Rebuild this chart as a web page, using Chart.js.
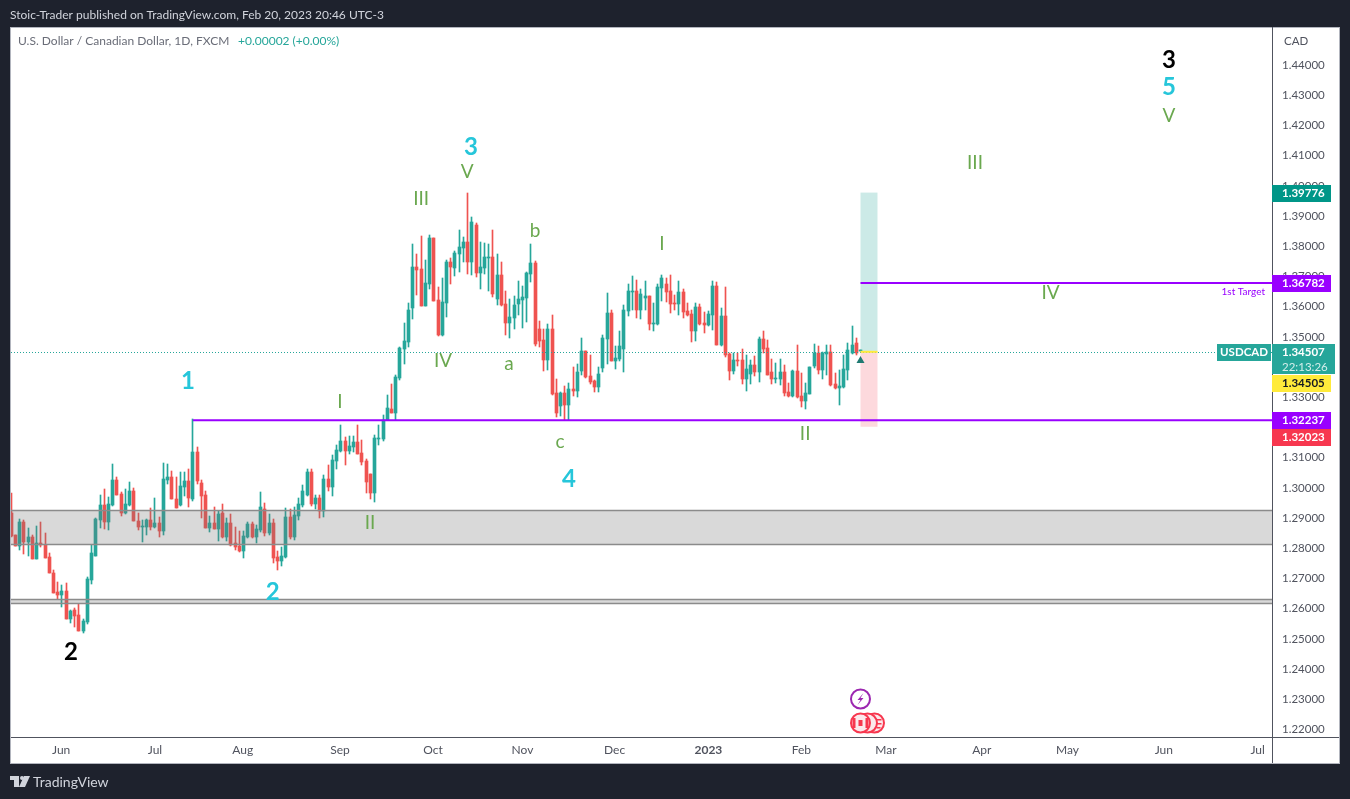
<!DOCTYPE html>
<html>
<head>
<meta charset="utf-8">
<title>USDCAD</title>
<script src="https://cdn.jsdelivr.net/npm/chart.js@4"></script>
<style>
  html, body { margin: 0; padding: 0; background: #1e222d; overflow: hidden; }
  canvas { display: block; }
</style>
</head>
<body>
<canvas id="grafica" width="1350" height="799"></canvas>
<script>
// --- Data ---
const opens = [
  1.2914,1.2840,1.2805,1.2883,1.2817,1.2834,1.2761,1.2814,1.2809,1.2768,
  1.2715,1.2652,1.2642,1.2655,1.2562,1.2592,1.2575,1.2522,1.2552,1.2691,
  1.2771,1.2890,1.2940,1.2883,1.2940,1.3023,1.2976,1.2913,1.2940,1.2986,
  1.2887,1.2868,1.2867,1.2890,1.2867,1.2880,1.2854,1.3023,1.3032,1.2960,
  1.2940,1.2999,1.3019,1.2960,1.3115,1.3013,1.2973,1.2864,1.2880,1.2860,
  1.2913,1.2834,1.2880,1.2814,1.2804,1.2787,1.2834,1.2877,1.2834,1.2857,
  1.2926,1.2847,1.2880,1.2768,1.2754,1.2768,1.2900,1.2834,1.2903,1.2940,
  1.2973,1.3049,1.2943,1.2963,1.2920,1.3026,1.2999,1.3085,1.3119,1.3152,
  1.3119,1.3132,1.3148,1.3112,1.3085,1.3042,1.2979,1.3159,1.3158,1.3221,
  1.3258,1.3244,1.3360,1.3456,1.3480,1.3592,1.3728,1.3721,1.3599,1.3672,
  1.3824,1.3619,1.3503,1.3609,1.3745,1.3725,1.3771,1.3791,1.3811,1.3745,
  1.3867,1.3708,1.3725,1.3758,1.3761,1.3622,1.3702,1.3605,1.3543,1.3559,
  1.3605,1.3619,1.3625,1.3705,1.3741,1.3523,1.3486,1.3420,1.3523,1.3311,
  1.3268,1.3311,1.3271,1.3324,1.3317,1.3384,1.3450,1.3367,1.3350,1.3331,
  1.3393,1.3490,1.3576,1.3417,1.3423,1.3456,1.3582,1.3645,1.3649,1.3586,
  1.3625,1.3632,1.3539,1.3539,1.3658,1.3672,1.3649,1.3609,1.3605,1.3645,
  1.3582,1.3572,1.3516,1.3596,1.3543,1.3536,1.3569,1.3665,1.3470,1.3566,
  1.3440,1.3384,1.3420,1.3420,1.3357,1.3374,1.3403,1.3380,1.3490,1.3460,
  1.3380,1.3357,1.3357,1.3380,1.3314,1.3301,1.3384,1.3301,1.3284,1.3307,
  1.3400,1.3443,1.3387,1.3440,1.3446,1.3340,1.3327,1.3331,1.3387,1.3443,
  1.3476,1.34505
];
const highs = [
  1.2981,1.2840,1.2893,1.2890,1.2865,1.2840,1.2870,1.2883,1.2847,1.2781,
  1.2724,1.2685,1.2675,1.2681,1.2592,1.2599,1.2613,1.2562,1.2701,1.2809,
  1.2897,1.2973,1.2993,1.2966,1.3076,1.3032,1.2983,1.2993,1.3016,1.2996,
  1.2913,1.2890,1.2893,1.2930,1.2963,1.2900,1.3079,1.3076,1.3052,1.3032,
  1.3049,1.3049,1.3059,1.3224,1.3132,1.3023,1.2986,1.2903,1.2933,1.2920,
  1.2943,1.2897,1.2910,1.2867,1.2854,1.2854,1.2883,1.2883,1.2874,1.2983,
  1.2946,1.2910,1.2893,1.2787,1.2801,1.2930,1.2926,1.2933,1.2963,1.3006,
  1.3059,1.3059,1.2973,1.2973,1.3039,1.3072,1.3105,1.3138,1.3205,1.3165,
  1.3168,1.3168,1.3205,1.3155,1.3092,1.3042,1.3172,1.3205,1.3238,1.3304,
  1.3340,1.3370,1.3463,1.3543,1.3609,1.3804,1.3771,1.3831,1.3751,1.3834,
  1.3824,1.3662,1.3692,1.3751,1.3758,1.3781,1.3851,1.3827,1.3973,1.3894,
  1.3874,1.3811,1.3807,1.3804,1.3851,1.3771,1.3745,1.3649,1.3622,1.3632,
  1.3682,1.3665,1.3711,1.3804,1.3748,1.3549,1.3523,1.3539,1.3569,1.3357,
  1.3314,1.3334,1.3344,1.3397,1.3407,1.3493,1.3450,1.3437,1.3354,1.3397,
  1.3503,1.3642,1.3586,1.3466,1.3516,1.3602,1.3672,1.3698,1.3685,1.3655,
  1.3682,1.3632,1.3609,1.3672,1.3701,1.3692,1.3701,1.3635,1.3682,1.3655,
  1.3609,1.3586,1.3609,1.3605,1.3579,1.3582,1.3682,1.3678,1.3592,1.3662,
  1.3443,1.3443,1.3443,1.3456,1.3437,1.3420,1.3433,1.3496,1.3516,1.3486,
  1.3423,1.3410,1.3423,1.3403,1.3344,1.3387,1.3470,1.3377,1.3344,1.3397,
  1.3473,1.3466,1.3446,1.3470,1.3470,1.3377,1.3387,1.3437,1.3476,1.3533,
  1.3493,1.3451
];
const lows = [
  1.2835,1.2804,1.2791,1.2780,1.2773,1.2761,1.2761,1.2802,1.2764,1.2715,
  1.2648,1.2628,1.2602,1.2562,1.2549,1.2536,1.2522,1.2517,1.2546,1.2678,
  1.2771,1.2864,1.2860,1.2857,1.2936,1.2973,1.2903,1.2910,1.2936,1.2887,
  1.2857,1.2817,1.2840,1.2857,1.2864,1.2834,1.2840,1.3009,1.2960,1.2930,
  1.2936,1.2970,1.2933,1.2955,1.3009,1.2897,1.2864,1.2850,1.2860,1.2821,
  1.2830,1.2821,1.2804,1.2791,1.2784,1.2764,1.2830,1.2830,1.2814,1.2850,
  1.2837,1.2840,1.2748,1.2724,1.2738,1.2764,1.2827,1.2824,1.2890,1.2934,
  1.2970,1.2936,1.2929,1.2896,1.2901,1.2986,1.2970,1.3059,1.3115,1.3072,
  1.3111,1.3115,1.3109,1.3072,1.2979,1.2960,1.2950,1.3138,1.3152,1.3221,
  1.3244,1.3221,1.3354,1.3407,1.3463,1.3556,1.3635,1.3599,1.3599,1.3655,
  1.3615,1.3499,1.3499,1.3562,1.3672,1.3698,1.3711,1.3745,1.3705,1.3702,
  1.3695,1.3655,1.3705,1.3649,1.3629,1.3602,1.3599,1.3503,1.3493,1.3523,
  1.3569,1.3526,1.3546,1.3678,1.3466,1.3463,1.3384,1.3387,1.3304,1.3231,
  1.3235,1.3221,1.3221,1.3301,1.3297,1.3370,1.3360,1.3340,1.3314,1.3314,
  1.3380,1.3407,1.3417,1.3390,1.3417,1.3380,1.3566,1.3586,1.3559,1.3556,
  1.3586,1.3519,1.3516,1.3536,1.3615,1.3612,1.3576,1.3586,1.3569,1.3559,
  1.3566,1.3480,1.3483,1.3536,1.3509,1.3533,1.3519,1.3470,1.3466,1.3430,
  1.3354,1.3374,1.3400,1.3340,1.3317,1.3340,1.3367,1.3347,1.3443,1.3370,
  1.3340,1.3344,1.3337,1.3301,1.3297,1.3297,1.3294,1.3264,1.3258,1.3307,
  1.3393,1.3374,1.3357,1.3370,1.3334,1.3324,1.3271,1.3327,1.3354,1.3440,
  1.3437,1.3450
];
const closes = [
  1.2837,1.2805,1.2883,1.2818,1.2834,1.2761,1.2814,1.2807,1.2764,1.2715,
  1.2648,1.2642,1.2655,1.2562,1.2589,1.2572,1.2522,1.2556,1.2695,1.2781,
  1.2893,1.2940,1.2883,1.2943,1.3023,1.2973,1.2913,1.2943,1.2986,1.2887,
  1.2867,1.2870,1.2890,1.2867,1.2880,1.2854,1.3026,1.3032,1.2960,1.2930,
  1.3003,1.3019,1.2963,1.3115,1.3019,1.2970,1.2864,1.2880,1.2860,1.2910,
  1.2834,1.2880,1.2807,1.2801,1.2787,1.2837,1.2877,1.2834,1.2860,1.2933,
  1.2847,1.2880,1.2764,1.2754,1.2771,1.2900,1.2834,1.2907,1.2943,1.2986,
  1.3049,1.2943,1.2963,1.2920,1.3026,1.2999,1.3089,1.3122,1.3152,1.3119,
  1.3135,1.3148,1.3109,1.3082,1.3016,1.2979,1.3162,1.3162,1.3221,1.3261,
  1.3244,1.3364,1.3460,1.3483,1.3586,1.3728,1.3718,1.3599,1.3675,1.3824,
  1.3615,1.3503,1.3612,1.3745,1.3728,1.3774,1.3794,1.3811,1.3745,1.3877,
  1.3708,1.3728,1.3761,1.3761,1.3639,1.3702,1.3602,1.3543,1.3562,1.3602,
  1.3622,1.3629,1.3708,1.3741,1.3473,1.3483,1.3420,1.3523,1.3307,1.3244,
  1.3311,1.3271,1.3324,1.3317,1.3380,1.3450,1.3364,1.3347,1.3331,1.3374,
  1.3493,1.3576,1.3417,1.3427,1.3466,1.3586,1.3649,1.3649,1.3586,1.3639,
  1.3632,1.3539,1.3543,1.3662,1.3692,1.3645,1.3605,1.3605,1.3645,1.3579,
  1.3569,1.3516,1.3596,1.3539,1.3536,1.3572,1.3665,1.3470,1.3566,1.3437,
  1.3384,1.3420,1.3417,1.3357,1.3390,1.3403,1.3380,1.3490,1.3456,1.3370,
  1.3357,1.3360,1.3380,1.3311,1.3301,1.3384,1.3297,1.3284,1.3311,1.3397,
  1.3443,1.3387,1.3443,1.3446,1.3337,1.3327,1.3334,1.3390,1.3453,1.3470,
  1.3443,1.34507
];

const priceTicks = [1.22,1.23,1.24,1.25,1.26,1.27,1.28,1.29,1.30,1.31,1.32,1.33,1.34,1.35,1.36,1.37,1.38,1.39,1.40,1.41,1.42,1.43,1.44];
const monthLabels = ['Jun','Jul','Aug','Sep','Oct','Nov','Dec','2023','Feb','Mar','Apr','May','Jun','Jul'];
const monthBars = [11.8,34,54.8,77.8,99.8,121,142.8,165,187,207,229.7,250,272.8,295];

// Supply zones, trade levels
const zoneTops = [1.29251, 1.26305];
const zoneBottoms = [1.28125, 1.26172];
const levelPrices = [1.32237, 1.36782];
const levelStartBars = [43, 201];
const targetPrice = 1.39776;
const entryPrice = 1.34505;
const stopPrice = 1.32023;
const lastPrice = 1.34507;
const lastBar = 201;

// Wave counts: text, bar, price
const bigTexts = ['2','3'];
const bigBars = [14.1, 274];
const bigPrices = [1.2456, 1.4416];
const cyanTexts = ['1','2','3','4','5'];
const cyanBars = [41.8, 61.9, 108.8, 132, 274];
const cyanPrices = [1.3353, 1.2655, 1.4128, 1.3029, 1.4327];
const greenTexts = ['I','II','III','IV','V','a','b','c','I','II','III','IV','V'];
const greenBars = [77.8, 84.9, 97, 102.2, 107.9, 117.8, 124, 129.9, 154, 187.9, 228.1, 246, 274];
const greenPrices = [1.3284, 1.2883, 1.3956, 1.3420, 1.4045, 1.3410, 1.3850, 1.3152, 1.3807, 1.3178, 1.4075, 1.3645, 1.4231];

const priceTags = [1.39776, 1.36782, 1.34505, 1.32237, 1.32023];
const priceTagColors = ['#009688', '#9900ff', '#ffeb3b', '#9900ff', '#f7374f'];
const priceTagTexts = ['#ffffff', '#ffffff', '#131722', '#ffffff', '#ffffff'];

const VERDE = '#26a69a';
const ROJO = '#ef5350';
const FUENTE = 'Lato, "Noto Sans", sans-serif';

const barIndex = opens.map((_, i) => i);
const colores = opens.map((o, i) => (closes[i] >= o ? VERDE : ROJO));

function texto(ctx, str, x, y, font, color, align = 'left') {
    ctx.font = font;
    ctx.fillStyle = color;
    ctx.textAlign = align;
    ctx.textBaseline = 'middle';
    ctx.fillText(str, x, y);
}

// --- Panel blanco y marco ---
const panelPlugin = {
    id: 'panel',
    beforeDraw(chart) {
        const ctx = chart.ctx;
        ctx.save();
        ctx.fillStyle = '#1e222d';
        ctx.fillRect(0, 0, 1350, 799);
        ctx.fillStyle = '#ffffff';
        ctx.fillRect(10, 27, 1330, 737);
        ctx.strokeStyle = '#b2b5be';
        ctx.lineWidth = 1;
        ctx.strokeRect(10.5, 27.5, 1329, 736);
        ctx.restore();
    },
    // velas nítidas como en la original
    afterDatasetsUpdate(chart) {
        chart.data.datasets.forEach((ds, d) => {
            chart.getDatasetMeta(d).data.forEach(el => {
                el.x = Math.floor(el.x) + 0.5;
                el.y = Math.floor(el.y - 0.3);
                el.base = Math.floor(el.base - 0.3);
                if (el.base === el.y) el.y -= 1;
            });
        });
    }
};

// --- Zonas, niveles y etiquetas ---
const overlayPlugin = {
    id: 'overlay',
    afterDatasetsDraw(chart) {
        const ctx = chart.ctx;
        const { x: sx, y: sy } = chart.scales;
        const { left, right, top, bottom } = chart.chartArea;
        ctx.save();
        ctx.beginPath();
        ctx.rect(left, top, right - left, bottom - top);
        ctx.clip();

        // Zonas grises
        zoneTops.forEach((t, i) => {
            const y0 = sy.getPixelForValue(t);
            const y1 = sy.getPixelForValue(zoneBottoms[i]);
            ctx.fillStyle = 'rgba(120,120,120,0.28)';
            ctx.fillRect(left, y0, right - left, y1 - y0);
            ctx.strokeStyle = '#8b8b8b';
            ctx.lineWidth = 1.5;
            ctx.beginPath();
            ctx.moveTo(left, y0); ctx.lineTo(right, y0);
            ctx.moveTo(left, y1); ctx.lineTo(right, y1);
            ctx.stroke();
        });

        // Cajas de objetivo y stop
        const bx0 = sx.getPixelForValue(lastBar);
        const bw = 17;
        const yEntry = sy.getPixelForValue(entryPrice);
        const yTarget = sy.getPixelForValue(targetPrice);
        const yStop = sy.getPixelForValue(stopPrice);
        ctx.fillStyle = 'rgba(0,150,136,0.2)';
        ctx.fillRect(bx0, yTarget, bw, yEntry - yTarget);
        ctx.fillStyle = 'rgba(244,67,84,0.2)';
        ctx.fillRect(bx0, yEntry, bw, yStop - yEntry);

        // Línea de precio punteada
        ctx.strokeStyle = VERDE;
        ctx.lineWidth = 1;
        ctx.setLineDash([1, 2]);
        ctx.beginPath();
        ctx.moveTo(left, Math.round(sy.getPixelForValue(lastPrice)) + 0.5);
        ctx.lineTo(right, Math.round(sy.getPixelForValue(lastPrice)) + 0.5);
        ctx.stroke();
        ctx.setLineDash([]);

        // Línea amarilla de entrada
        ctx.strokeStyle = '#ffeb3b';
        ctx.lineWidth = 2;
        ctx.beginPath();
        ctx.moveTo(bx0, yEntry); ctx.lineTo(bx0 + bw, yEntry);
        ctx.stroke();

        // Niveles morados
        levelPrices.forEach((p, i) => {
            const y = sy.getPixelForValue(p);
            ctx.strokeStyle = '#9900ff';
            ctx.lineWidth = 2;
            ctx.beginPath();
            ctx.moveTo(sx.getPixelForValue(levelStartBars[i]), y);
            ctx.lineTo(right, y);
            ctx.stroke();
        });
        texto(ctx, '1st Target', 1265, 292, '10px ' + FUENTE, '#9900ff', 'right');

        // Triángulo
        ctx.fillStyle = '#1f7a72';
        ctx.beginPath();
        ctx.moveTo(bx0, 356); ctx.lineTo(bx0 + 4, 363); ctx.lineTo(bx0 - 4, 363);
        ctx.closePath();
        ctx.fill();

        // Conteo de ondas
        bigTexts.forEach((t, i) => texto(ctx, t, sx.getPixelForValue(bigBars[i]), sy.getPixelForValue(bigPrices[i]), 'bold 24px ' + FUENTE, '#000000', 'center'));
        cyanTexts.forEach((t, i) => texto(ctx, t, sx.getPixelForValue(cyanBars[i]), sy.getPixelForValue(cyanPrices[i]), 'bold 24px ' + FUENTE, '#26c6da', 'center'));
        greenTexts.forEach((t, i) => texto(ctx, t, sx.getPixelForValue(greenBars[i]), sy.getPixelForValue(greenPrices[i]), '19px ' + FUENTE, '#6aa84f', 'center'));

        // Eventos
        ctx.strokeStyle = '#9c27b0';
        ctx.lineWidth = 2;
        ctx.beginPath();
        ctx.arc(bx0, 699, 9.5, 0, Math.PI * 2);
        ctx.stroke();
        ctx.fillStyle = '#9c27b0';
        ctx.beginPath();
        ctx.moveTo(bx0 + 3, 693); ctx.lineTo(bx0 - 3, 700); ctx.lineTo(bx0, 700);
        ctx.lineTo(bx0 - 3, 705); ctx.lineTo(bx0 + 3, 698); ctx.lineTo(bx0, 698);
        ctx.closePath();
        ctx.fill();
        [14, 7, 0].forEach(dx => {
            ctx.fillStyle = '#fbe9ec';
            ctx.strokeStyle = '#f7374f';
            ctx.lineWidth = 2;
            ctx.beginPath();
            ctx.arc(bx0 + dx, 723, 9.5, 0, Math.PI * 2);
            ctx.fill();
            ctx.stroke();
        });
        ctx.fillStyle = '#f7374f';
        ctx.fillRect(bx0 - 2, 720, 4, 6);
        ctx.fillRect(bx0 - 8, 718, 3, 10);
        ctx.fillRect(bx0 + 5, 718, 3, 10);
        ctx.fillRect(bx0 + 16, 719, 5, 1.5);
        ctx.fillRect(bx0 + 16, 723, 5, 1.5);
        ctx.fillRect(bx0 + 16, 727, 4, 1.5);
        ctx.restore();
    },
    afterDraw(chart) {
        const ctx = chart.ctx;
        const { y: sy } = chart.scales;
        const { right, left, top, bottom } = chart.chartArea;
        ctx.save();

        // Ejes
        ctx.strokeStyle = '#50535e';
        ctx.lineWidth = 1;
        ctx.beginPath();
        ctx.moveTo(right + 0.5, top); ctx.lineTo(right + 0.5, 763);
        ctx.moveTo(left, bottom + 0.5); ctx.lineTo(1339, bottom + 0.5);
        ctx.stroke();

        // Último precio y cuenta regresiva
        const yLast = Math.round(sy.getPixelForValue(lastPrice));
        ctx.fillStyle = VERDE;
        ctx.fillRect(right, yLast - 8, 63, 30);
        ctx.fillRect(1217, yLast - 8, 54, 17);
        texto(ctx, lastPrice.toFixed(5), right + 10, yLast + 0.5, 'bold 11.5px ' + FUENTE, '#ffffff');
        texto(ctx, '22:13:26', right + 10, yLast + 15, '11.5px ' + FUENTE, '#d4eeeb');
        texto(ctx, 'USDCAD', 1244, yLast + 0.5, 'bold 11.5px ' + FUENTE, '#ffffff', 'center');

        // Etiquetas del eje de precios, apiladas si se tapan
        let fondo = 0;
        priceTags.forEach((p, i) => {
            if (p < lastPrice && fondo < yLast + 23) fondo = yLast + 23;
            const y = Math.max(Math.round(sy.getPixelForValue(p)), fondo + 8);
            ctx.fillStyle = priceTagColors[i];
            ctx.fillRect(right, y - 8, 59, 17);
            texto(ctx, p.toFixed(5), right + 10, y + 0.5, 'bold 11.5px ' + FUENTE, priceTagTexts[i]);
            fondo = y + 9;
        });

        // Encabezados
        texto(ctx, 'Stoic-Trader published on TradingView.com, Feb 20, 2023 20:46 UTC-3', 10, 15, '12px ' + FUENTE, '#d1d4dc');
        texto(ctx, 'U.S. Dollar / Canadian Dollar, 1D, FXCM', 18, 41, '12px ' + FUENTE, '#6a6d78');
        texto(ctx, '+0.00002 (+0.00%)', 238, 41, '12px ' + FUENTE, VERDE);
        texto(ctx, 'CAD', 1284, 41, '11.5px ' + FUENTE, '#50535e');

        // Logo
        ctx.fillStyle = '#d1d4dc';
        ctx.fillRect(10, 776, 9, 4);
        ctx.fillRect(14, 776, 5, 11);
        ctx.beginPath();
        ctx.arc(22, 778, 2, 0, Math.PI * 2);
        ctx.fill();
        ctx.beginPath();
        ctx.moveTo(24, 776); ctx.lineTo(30, 776); ctx.lineTo(25, 787); ctx.lineTo(19, 787);
        ctx.closePath();
        ctx.fill();
        texto(ctx, 'TradingView', 33, 782, '14px ' + FUENTE, '#d1d4dc');
        ctx.restore();
    }
};

new Chart(document.getElementById('grafica').getContext('2d'), {
    type: 'bar',
    data: {
        datasets: [
            {
                // cuerpos
                label: 'Cuerpo',
                data: barIndex.map(i => ({ x: i, y: [opens[i], closes[i]] })),
                backgroundColor: colores,
                barThickness: 3,
                minBarLength: 1,
                grouped: false,
                order: 1
            },
            {
                // mechas
                label: 'Mecha',
                data: barIndex.map(i => ({ x: i, y: [lows[i], highs[i]] })),
                backgroundColor: colores,
                barThickness: 1,
                grouped: false,
                order: 2
            }
        ]
    },
    options: {
        responsive: false,
        animation: false,
        layout: { padding: { left: 11, top: 27, right: 11, bottom: 36 } },
        plugins: { legend: { display: false }, tooltip: { enabled: false } },
        scales: {
            x: {
                type: 'linear',
                offset: false,
                min: -0.07,
                max: 298.4,
                grid: { display: false, drawTicks: false },
                border: { display: false },
                afterBuildTicks: scale => { scale.ticks = monthBars.map(v => ({ value: v })); },
                afterFit: scale => { scale.height = 26; },
                ticks: {
                    autoSkip: false,
                    maxRotation: 0,
                    padding: 6,
                    color: '#50535e',
                    font: c => ({ family: FUENTE, size: 12, weight: c.index === 7 ? 'bold' : 'normal' }),
                    callback: (v, i) => monthLabels[i]
                }
            },
            y: {
                position: 'right',
                min: 1.21752,
                max: 1.45258,
                grid: { display: false, drawTicks: false },
                border: { display: false },
                afterBuildTicks: scale => { scale.ticks = priceTicks.map(v => ({ value: v })); },
                afterFit: scale => { scale.width = 67; },
                ticks: {
                    autoSkip: false,
                    padding: 10,
                    color: '#50535e',
                    font: { family: FUENTE, size: 11.5 },
                    callback: v => v.toFixed(5)
                }
            }
        }
    },
    plugins: [panelPlugin, overlayPlugin]
});
</script>
</body>
</html>
